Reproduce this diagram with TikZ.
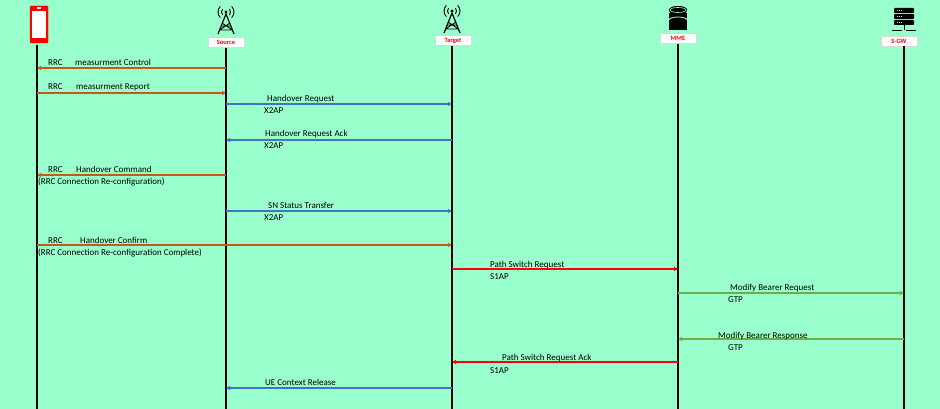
\documentclass[tikz,border=0pt]{standalone}
\usepackage{fontspec}
\setmainfont{Carlito}
\usetikzlibrary{arrows.meta}
\definecolor{bg}{HTML}{99FFCC}
\definecolor{org}{HTML}{C55A11}
\definecolor{blu}{HTML}{4472C4}
\definecolor{grn}{HTML}{70AD47}
\tikzset{
 lab/.style={draw=black!15,fill=white,text=red,font=\fontsize{6.5}{7}\selectfont\bfseries,minimum width=36pt,minimum height=10pt,inner sep=0pt},
 life/.style={line width=1.3pt},
 msg/.style={line width=1.1pt,-{Triangle[length=4pt,width=4pt]}},
 txt/.style={font=\fontsize{9}{10}\selectfont,anchor=base west,yshift=-3pt,inner sep=0pt},
}
\begin{document}
\begin{tikzpicture}[x=1pt,y=-1pt]
\fill[bg] (0,0) rectangle (940,409);
\useasboundingbox (0,0) rectangle (940,409);
% phone
\draw[red,fill=red,rounded corners=1pt] (30,6) rectangle (48,43);
\fill[white] (32,11) rectangle (46,38);
\fill[white] (37,7.5) rectangle (41,9);
% towers
\foreach \cx/\ty in {226/4,452/3}{
 \draw[line width=1.2pt] (\cx-8,\ty+30) -- (\cx,\ty+10) -- (\cx+8,\ty+30);
 \draw[line width=0.9pt] (\cx-5,\ty+22) -- (\cx+5,\ty+22) (\cx-6.5,\ty+26) -- (\cx+6.5,\ty+26) (\cx-4,\ty+19)--(\cx+6.5,\ty+26) (\cx+4,\ty+19)--(\cx-6.5,\ty+26);
 \fill (\cx,\ty+8) circle (1.6pt);
 \draw[line width=0.9pt] (\cx,\ty+8) ++(140:4.5) arc (140:220:4.5);
 \draw[line width=0.9pt] (\cx,\ty+8) ++(40:4.5) arc (40:-40:4.5);
 \draw[line width=0.9pt] (\cx,\ty+8) ++(135:8) arc (135:225:8);
 \draw[line width=0.9pt] (\cx,\ty+8) ++(45:8) arc (45:-45:8);
}
% database
\foreach \yy in {24,17,10}{\fill (678,\yy) ellipse (9 and 4); \fill (669,\yy) rectangle (687,\yy+6);}
\foreach \yy in {13,20}{\draw[bg,line width=0.8pt] (669,\yy) arc (180:360:9 and 3);}
\fill (678,10) ellipse (9 and 4);
\draw[bg,line width=0.6pt] (678,10) ellipse (8 and 2.5);
% server
\foreach \yy in {8,14,20}{\fill[rounded corners=0.8pt] (894,\yy) rectangle (914,\yy+5);
 \foreach \k in {0,2,4}{\fill[bg] (897+\k,\yy+2) rectangle (898+\k,\yy+3);}}
\draw[line width=1pt] (904,25)--(904,30) (892,30.5)--(902,30.5) (906,30.5)--(916,30.5);
% labels and lifelines
\node[lab] (srcl) at (226,42.5) {Source};
\node[lab] (tgtl) at (453,40.5) {Target};
\node[lab] (mmel) at (678,38.5) {MME};
\node[lab] (sgwl) at (899,41) {S-GW};
\coordinate (uet) at (37,45);
\foreach \n/\a/\x in {ue/uet/37,src/srcl.south/226,tgt/tgtl.south/452,mme/mmel.south/678,sgw/sgwl.south/904}{
 \coordinate (\n) at (\x,409);
 \draw[life] (\x,0 |- \a) -- (\n);}
% messages
\draw[msg,org] (src |- 0,68) -- (ue |- 0,68);
\node[txt] (m1a) at (48,63) {RRC}; \node[txt] (m1b) at (75,63) {measurment Control};
\draw[msg,org] (ue |- 0,93) -- (src |- 0,93);
\node[txt] (m2a) at (48,87) {RRC}; \node[txt] (m2b) at (76,87) {measurment Report};
\draw[msg,blu] (src |- 0,104) -- (tgt |- 0,104);
\node[txt] (m3) at (267,99) {Handover Request}; \node[txt] (m3b) at (264,111) {X2AP};
\draw[msg,blu] (tgt |- 0,140) -- (src |- 0,140);
\node[txt] (m4) at (265,134) {Handover Request Ack}; \node[txt] (m4b) at (264,146) {X2AP};
\draw[msg,org] (src |- 0,175) -- (ue |- 0,175);
\node[txt] (m5a) at (48,170) {RRC}; \node[txt] (m5b) at (76,170) {Handover Command};
\node[txt] (m5c) at (38,182) {(RRC Connection Re-configuration)};
\draw[msg,blu] (src |- 0,211) -- (tgt |- 0,211);
\node[txt] (m6) at (268,205) {SN Status Transfer}; \node[txt] (m6b) at (264,217) {X2AP};
\draw[msg,org] (ue |- 0,245) -- (tgt |- 0,245);
\node[txt] (m7a) at (48,240) {RRC}; \node[txt] (m7b) at (80,240) {Handover Confirm};
\node[txt] (m7c) at (38,252) {(RRC Connection Re-configuration Complete)};
\draw[msg,red] (tgt |- 0,269) -- (mme |- 0,269);
\node[txt] (m8) at (490,264) {Path Switch Request}; \node[txt] (m8b) at (490,276) {S1AP};
\draw[msg,grn] (mme |- 0,293) -- (sgw |- 0,293);
\node[txt] (m9) at (730,287) {Modify Bearer Request}; \node[txt] (m9b) at (728,299) {GTP};
\draw[msg,grn] (sgw |- 0,339) -- (mme |- 0,339);
\node[txt] (m10) at (718,335) {Modify Bearer Response}; \node[txt] (m10b) at (728,347) {GTP};
\draw[msg,red] (mme |- 0,362) -- (tgt |- 0,362);
\node[txt] (m11) at (502,357) {Path Switch Request Ack}; \node[txt] (m11b) at (490,370) {S1AP};
\draw[msg,blu] (tgt |- 0,388) -- (src |- 0,388);
\node[txt] (m12) at (265,382) {UE Context Release};
\end{tikzpicture}
\end{document}
